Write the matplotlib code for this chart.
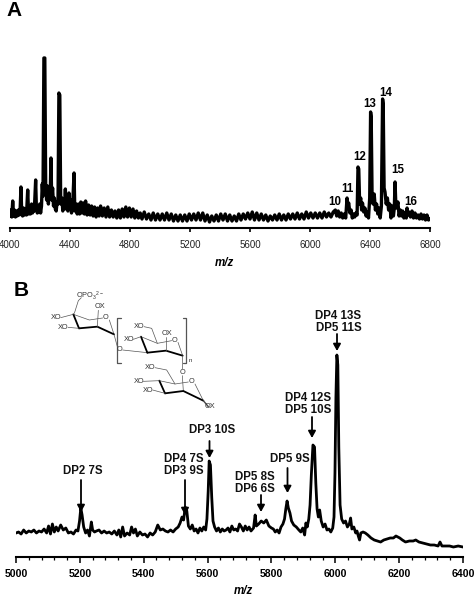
import matplotlib
matplotlib.use('Agg')
import matplotlib.pyplot as plt

plt.rcParams['font.family'] = ['Liberation Sans', 'DejaVu Sans']
plt.rcParams['mathtext.default'] = 'regular'

W, H = 474, 599

# panel A spectrum (m/z, intensity)
mz_a = [4000, 4006, 4012, 4018, 4024, 4030, 4036, 4042, 4048, 4056, 4062, 4068, 4073, 4078, 4084, 4090, 4096, 4104,
        4110, 4118, 4124, 4130, 4136, 4144, 4150, 4156, 4162, 4171, 4176, 4182, 4190, 4198, 4204, 4210, 4215, 4220,
        4226, 4232, 4238, 4244, 4250, 4256, 4262, 4268, 4273, 4278, 4284, 4290, 4296, 4302, 4308, 4314, 4320, 4326,
        4332, 4338, 4346, 4352, 4358, 4364, 4369, 4374, 4380, 4386, 4393, 4398, 4404, 4410, 4418, 4427, 4432, 4440,
        4448, 4456, 4464, 4472, 4480, 4488, 4496, 4504, 4514, 4524, 4534, 4544, 4554, 4564, 4574, 4584, 4594, 4604,
        4616, 4628, 4640, 4652, 4664, 4676, 4688, 4700, 4712, 4724, 4736, 4748, 4760, 4772, 4784, 4796, 4808, 4820,
        4832, 4844, 4856, 4868, 4880, 4895, 4910, 4925, 4940, 4955, 4970, 4985, 5000, 5015, 5030, 5045, 5060, 5075,
        5090, 5105, 5120, 5135, 5150, 5165, 5180, 5195, 5210, 5225, 5240, 5255, 5270, 5285, 5300, 5315, 5330, 5345,
        5360, 5375, 5390, 5405, 5420, 5435, 5450, 5465, 5480, 5495, 5510, 5525, 5540, 5555, 5570, 5585, 5600, 5615,
        5630, 5645, 5660, 5675, 5690, 5705, 5720, 5735, 5750, 5765, 5780, 5795, 5810, 5825, 5840, 5855, 5870, 5885,
        5900, 5915, 5930, 5945, 5960, 5975, 5990, 6005, 6020, 6035, 6050, 6065, 6080, 6095, 6110, 6125, 6140, 6155,
        6169, 6178, 6188, 6198, 6208, 6218, 6228, 6238, 6247, 6252, 6258, 6266, 6274, 6282, 6290, 6298, 6306, 6314,
        6320, 6325, 6331, 6338, 6344, 6350, 6358, 6366, 6374, 6382, 6390, 6398, 6404, 6408, 6414, 6420, 6428, 6436,
        6444, 6452, 6460, 6468, 6476, 6484, 6488, 6494, 6500, 6508, 6516, 6524, 6532, 6540, 6548, 6556, 6562, 6567,
        6572, 6578, 6586, 6594, 6602, 6610, 6618, 6626, 6634, 6642, 6647, 6652, 6660, 6670, 6680, 6690, 6700, 6710,
        6720, 6730, 6740, 6750, 6760, 6770, 6780, 6790, 6800]
int_a = [12, 18, 11, 27, 12, 18, 11, 17, 12, 18, 13, 20, 41, 15, 12, 20, 13, 19,
         13, 38, 14, 20, 14, 24, 15, 21, 17, 48, 19, 15, 16, 24, 15, 22, 44, 32,
         170, 170, 40, 28, 42, 24, 38, 30, 70, 28, 40, 22, 30, 19, 17, 26, 24, 135,
         133, 24, 30, 17, 28, 21, 39, 19, 32, 17, 35, 19, 28, 15, 24, 55, 17, 24,
         14, 24, 14, 26, 15, 25, 14, 27, 13, 23, 13, 22, 12, 21, 11, 20, 12, 22,
         12, 20, 11, 21, 11, 18, 11, 17, 10, 18, 10, 19, 11, 21, 11, 20, 11, 19,
         10, 17, 10, 15, 9, 16, 9, 14, 8, 15, 8, 14, 8, 14, 8, 15, 8, 14,
         7, 13, 7, 13, 7, 13, 7, 14, 8, 14, 8, 15, 8, 15, 7, 13, 6, 12,
         7, 13, 7, 14, 8, 14, 7, 13, 7, 12, 7, 14, 8, 14, 9, 15, 9, 16,
         8, 15, 8, 14, 8, 13, 7, 12, 8, 13, 8, 14, 8, 13, 8, 14, 9, 14,
         9, 15, 9, 14, 9, 16, 10, 15, 10, 15, 10, 15, 10, 16, 11, 15, 11, 16,
         18, 12, 17, 11, 15, 10, 14, 10, 30, 22, 25, 15, 18, 10, 14, 11, 15, 13,
         61, 59, 24, 30, 18, 25, 16, 20, 12, 16, 10, 30, 116, 111, 30, 24, 34, 18,
         24, 14, 20, 10, 22, 129, 124, 40, 36, 24, 30, 18, 24, 10, 22, 12, 20, 46,
         24, 20, 26, 12, 18, 12, 17, 10, 15, 10, 20, 13, 16, 11, 17, 10, 15, 10,
         13, 9, 14, 9, 13, 8, 13, 8, 9]
tick_a = [4000, 4400, 4800, 5200, 5600, 6000, 6400, 6800]
label_a = ['10', '11', '12', '13', '14', '15', '16']
label_a_mz = [6167, 6247, 6333, 6398, 6505, 6587, 6671]
label_a_int = [26, 39, 71, 124, 135, 58, 26]

# panel B spectrum (m/z, intensity)
mz_b = [5000, 5008, 5016, 5024, 5032, 5040, 5048, 5056, 5064, 5072, 5080, 5088, 5096, 5102, 5108, 5114, 5120, 5126,
        5132, 5140, 5148, 5156, 5164, 5172, 5180, 5188, 5194, 5199, 5203, 5207, 5212, 5218, 5224, 5230, 5236, 5240,
        5246, 5252, 5260, 5268, 5276, 5284, 5292, 5300, 5308, 5316, 5322, 5328, 5334, 5340, 5348, 5356, 5362, 5368,
        5374, 5380, 5388, 5396, 5404, 5412, 5420, 5428, 5436, 5444, 5452, 5460, 5468, 5476, 5484, 5492, 5500, 5508,
        5514, 5520, 5525, 5530, 5535, 5540, 5546, 5552, 5558, 5564, 5570, 5576, 5582, 5588, 5594, 5598, 5602, 5605,
        5609, 5613, 5617, 5622, 5628, 5634, 5640, 5646, 5652, 5658, 5664, 5670, 5676, 5682, 5688, 5694, 5700, 5706,
        5712, 5718, 5724, 5730, 5736, 5744, 5749, 5753, 5760, 5768, 5776, 5784, 5792, 5800, 5806, 5812, 5818, 5824,
        5830, 5836, 5841, 5845, 5849, 5853, 5858, 5863, 5870, 5878, 5886, 5892, 5898, 5904, 5908, 5912, 5917, 5921,
        5925, 5930, 5935, 5939, 5943, 5947, 5951, 5956, 5962, 5968, 5974, 5980, 5986, 5992, 5996, 5999, 6002, 6005,
        6008, 6011, 6015, 6020, 6026, 6032, 6038, 6044, 6048, 6052, 6058, 6064, 6068, 6072, 6076, 6080, 6087, 6094,
        6102, 6112, 6122, 6132, 6142, 6152, 6162, 6172, 6182, 6190, 6196, 6202, 6210, 6220, 6232, 6244, 6252, 6262,
        6274, 6286, 6298, 6310, 6322, 6328, 6334, 6346, 6358, 6370, 6385, 6400]
int_b = [24, 25, 23, 27, 24, 26, 25, 27, 24, 26, 25, 28, 24, 31, 23, 33, 25, 30,
         26, 32, 27, 29, 24, 25, 23, 27, 26, 36, 49, 42, 30, 24, 27, 21, 35, 27,
         25, 26, 27, 24, 26, 24, 25, 23, 26, 22, 27, 20, 30, 21, 24, 22, 30, 24,
         28, 21, 25, 22, 23, 20, 24, 22, 25, 32, 27, 28, 26, 25, 27, 25, 28, 30,
         34, 40, 37, 50, 46, 31, 28, 32, 26, 28, 24, 29, 26, 30, 27, 38, 66, 96,
         92, 60, 36, 30, 26, 29, 25, 28, 26, 27, 29, 25, 31, 27, 28, 26, 33, 30,
         26, 31, 27, 30, 26, 29, 42, 31, 33, 36, 34, 37, 31, 29, 28, 25, 27, 24,
         30, 33, 38, 48, 56, 49, 44, 36, 32, 30, 27, 25, 29, 22, 34, 30, 38, 52,
         82, 112, 110, 74, 48, 40, 47, 36, 30, 33, 27, 28, 25, 29, 40, 84, 160, 202,
         192, 110, 52, 38, 34, 36, 30, 33, 39, 28, 30, 24, 26, 21, 17, 24, 25, 24,
         22, 19, 17, 16, 15, 17, 18, 19, 19, 21, 20, 19, 17, 15, 16, 16, 17, 15,
         14, 13, 12, 12, 11, 15, 11, 11, 11, 10, 11, 10]
tick_b = [5000, 5200, 5400, 5600, 5800, 6000, 6200, 6400]
minor_b = [5040, 5080, 5120, 5160, 5240, 5280, 5320, 5360, 5440, 5480, 5520, 5560, 5640, 5680, 5720, 5760,
           5840, 5880, 5920, 5960, 6040, 6080, 6120, 6160, 6240, 6280, 6320, 6360]
label_b = ['DP2 7S', 'DP4 7S\nDP3 9S', 'DP3 10S', 'DP5 8S\nDP6 6S', 'DP5 9S', 'DP4 12S\nDP5 10S', 'DP4 13S\nDP5 11S']


def make_axes(left, right, top, bottom):
    ax = fig.add_axes([left / W, 1 - bottom / H, (right - left) / W, (bottom - top) / H])
    ax.patch.set_alpha(0)
    for s in ['top', 'left', 'right']:
        ax.spines[s].set_visible(False)
    ax.spines['bottom'].set_linewidth(1.5)
    ax.set_yticks([])
    return ax


fig = plt.figure(figsize=(W / 100, H / 100), dpi=100)

# panel A
ax1 = make_axes(10, 430, 48, 228)
ax1.plot(mz_a, int_a, color='black', lw=2.4, solid_joinstyle='round')
ax1.set_xlim(4000, 6800)
ax1.set_ylim(0, 180)
ax1.set_xticks(tick_a)
ax1.tick_params(axis='x', length=3, width=1.2, labelsize=7, labelcolor='#222222', pad=6)
for t, x, y in zip(label_a, label_a_mz, label_a_int):
    ax1.text(x, y, t, fontsize=8.3, fontweight='bold', ha='center', va='center')

# panel B
ax2 = make_axes(16, 463, 340, 557)
ax2.plot(mz_b, int_b, color='black', lw=2, solid_joinstyle='round')
ax2.set_xlim(5000, 6400)
ax2.set_ylim(0, 217)
ax2.set_xticks(tick_b)
ax2.set_xticks(minor_b, minor=True)
ax2.tick_params(axis='x', which='major', length=4, width=1.1, labelsize=7.6, pad=4.5)
ax2.tick_params(axis='x', which='minor', length=2.5, width=0.9)
for t in ax2.get_xticklabels():
    t.set_fontweight('bold')

# overlay in image pixels for letters, arrows and the structure drawing
ov = fig.add_axes([0, 0, 1, 1])
ov.set_xlim(0, W)
ov.set_ylim(H, 0)
ov.axis('off')
ov.patch.set_alpha(0)

ov.text(14, 10, 'A', fontsize=15, fontweight='bold', ha='center', va='center')
ov.text(21, 290, 'B', fontsize=15, fontweight='bold', ha='center', va='center')
ov.text(224, 263, 'm/z', fontsize=8.3, fontweight='bold', style='italic', ha='center', va='center')
ov.text(243, 591, 'm/z', fontsize=8.3, fontweight='bold', style='italic', ha='center', va='center')

label_xy = [(83, 471.5), (184, 465), (212, 430), (255, 483), (289.5, 458.5), (308, 404), (338.5, 322)]
arrow_x = [81, 185, 209.5, 261, 287.5, 312, 337]
arrow_top = [480, 480, 441, 495, 468, 417, 334]
arrow_tip = [512, 515, 458, 512, 493, 438, 351]
for t, (x, y) in zip(label_b, label_xy):
    ov.text(x, y, t, fontsize=8.3, fontweight='bold', color='#111111', ha='center', va='center', linespacing=1.05)
for x, y0, y1 in zip(arrow_x, arrow_top, arrow_tip):
    ov.annotate('', xy=(x, y1), xytext=(x, y0),
                arrowprops=dict(arrowstyle='-|>,head_length=0.4,head_width=0.22', color='black', lw=1.3,
                                shrinkA=0, shrinkB=0))


def sx(x):
    return 40 + x / 3


def sy(y):
    return 285 + y / 3


def bond(pts, lw=0.5, color='#555555'):
    ov.plot([sx(p[0]) for p in pts], [sy(p[1]) for p in pts], color=color, lw=lw, solid_capstyle='round')


def chem(x, y, s, size=5.3):
    ov.text(sx(x), sy(y), s, fontsize=size, color='#333333', ha='center', va='center')


# first ring
bond([(100, 88), (148, 105), (188, 99)])
bond([(208, 105), (222, 148)])
bond([(100, 88), (117, 130)], lw=1.3, color='black')
bond([(117, 130), (172, 125), (222, 148)], lw=1.3, color='black')
bond([(100, 88), (62, 98)])
bond([(117, 130), (84, 127)])
bond([(103, 85), (115, 47), (124, 38)])
bond([(172, 125), (175, 76)])
chem(47, 98, 'XO')
chem(70, 127, 'XO')
chem(150, 33, 'OPO$_3$$^{2-}$')
chem(180, 65, 'OX')
chem(198, 97, 'O')
# second ring
bond([(222, 148), (232, 185)])
bond([(248, 195), (322, 203)])
bond([(303, 155), (352, 175), (395, 167)])
bond([(414, 172), (428, 212)])
bond([(303, 155), (322, 203)], lw=1.3, color='black')
bond([(322, 203), (378, 197), (428, 212)], lw=1.3, color='black')
bond([(312, 125), (335, 130), (352, 175)])
bond([(280, 163), (303, 155)])
bond([(378, 197), (378, 155)])
chem(240, 193, 'O')
chem(296, 125, 'XO')
chem(267, 163, 'XO')
chem(382, 145, 'OX')
chem(405, 167, 'O')
chem(450, 228, 'n', 4.5)
bond([(242, 98), (232, 98), (232, 235), (242, 235)], lw=0.9)
bond([(428, 98), (438, 98), (438, 235), (428, 235)], lw=0.9)
# third ring
bond([(428, 212), (427, 252)])
bond([(427, 272), (430, 318)])
bond([(358, 287), (405, 297), (445, 291)])
bond([(465, 297), (490, 347)])
bond([(358, 287), (375, 325)], lw=1.3, color='black')
bond([(375, 325), (430, 318), (490, 347)], lw=1.3, color='black')
bond([(345, 248), (380, 255), (405, 297)])
bond([(310, 289), (358, 287)])
bond([(338, 315), (375, 325)])
bond([(490, 347), (505, 365)], lw=1.0, color='#444444')
chem(427, 262, 'O')
chem(330, 248, 'XO')
chem(297, 289, 'XO')
chem(323, 315, 'XO')
chem(455, 290, 'O')
chem(510, 366, 'OX')

fig.savefig('out.png', dpi=100)
